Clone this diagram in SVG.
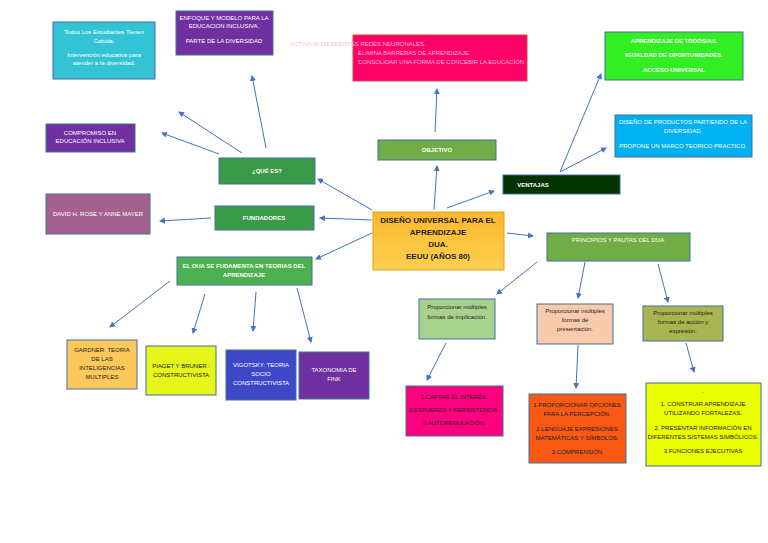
<svg xmlns="http://www.w3.org/2000/svg" width="768" height="543" viewBox="0 0 768 543">
<defs>
<marker id="ah" markerWidth="6" markerHeight="6" refX="5" refY="3" orient="auto" markerUnits="userSpaceOnUse"><path d="M0,0 L6,3 L0,6 Z" fill="#4472c4"/></marker>
<linearGradient id="cg" x1="0" y1="0" x2="0" y2="1"><stop offset="0" stop-color="#fdb82a"/><stop offset="1" stop-color="#fdd050"/></linearGradient>
</defs>
<style>
rect{stroke:#41719c;stroke-width:1}
text{font-family:"Liberation Sans",Arial,sans-serif;font-size:6px;text-anchor:middle}
.w{fill:#fff}.d{fill:#222}.b{font-weight:bold}
#conn line{stroke:#4472c4;stroke-width:1;marker-end:url(#ah)}
</style>
<rect width="768" height="543" fill="#fff" style="stroke:none"/>
<g id="conn">
<line x1="372" y1="210" x2="318" y2="179"/>
<line x1="372" y1="220" x2="320" y2="218"/>
<line x1="372" y1="233" x2="316" y2="259"/>
<line x1="434" y1="210" x2="437" y2="166"/>
<line x1="447" y1="208" x2="494" y2="191"/>
<line x1="507" y1="233" x2="533" y2="236"/>
<line x1="435" y1="132" x2="437" y2="89"/>
<line x1="560" y1="172" x2="601" y2="74"/>
<line x1="560" y1="172" x2="606" y2="148"/>
<line x1="242" y1="153" x2="179" y2="112"/>
<line x1="266" y1="148" x2="252" y2="76"/>
<line x1="219" y1="154" x2="162" y2="133"/>
<line x1="211" y1="218" x2="160" y2="221"/>
<line x1="170" y1="281" x2="110" y2="327"/>
<line x1="205" y1="294" x2="193" y2="333"/>
<line x1="256" y1="292" x2="253" y2="331"/>
<line x1="297" y1="288" x2="311" y2="342"/>
<line x1="537" y1="262" x2="497" y2="294"/>
<line x1="585" y1="262" x2="578" y2="298"/>
<line x1="658" y1="264" x2="668" y2="302"/>
<line x1="446" y1="343" x2="427" y2="380"/>
<line x1="578" y1="345" x2="576" y2="388"/>
<line x1="686" y1="343" x2="694" y2="372"/>
</g>
<g id="todos"><rect x="53" y="22" width="102" height="57" fill="#33c3d4"/><text class="w" x="104" y="34">Todos Los Estudiantes Tienen</text><text class="w" x="104" y="43">Cabida.</text><text class="w" x="104" y="57">Intervención educativa para</text><text class="w" x="104" y="65">atender a la diversidad.</text></g>
<g id="enfoque"><rect x="176" y="11" width="97" height="44" fill="#7030a0"/><text class="w" x="224" y="20">ENFOQUE Y MODELO PARA LA</text><text class="w" x="224" y="28">EDUCACION INCLUSIVA.</text><text class="w" x="224" y="43">PARTE DE LA DIVERSIDAD</text></g>
<g id="compromiso"><rect x="46" y="124" width="89" height="28" fill="#7030a0"/><text class="w" x="90" y="135">COMPROMISO EN</text><text class="w" x="90" y="143">EDUCACIÓN INCLUSIVA</text></g>
<g id="quees"><rect x="219" y="158" width="96" height="26" fill="#3a9a48"/><text class="w b" x="267" y="173">¿QUÉ ES?</text></g>
<g id="fundadores"><rect x="215" y="206" width="99" height="24" fill="#3a9a48"/><text class="w b" x="264" y="220">FUNDADORES</text></g>
<g id="david"><rect x="46" y="194" width="104" height="40" fill="#a5628e"/><text class="w" x="98" y="216">DAVID H. ROSE Y ANNE MAYER</text></g>
<g id="activa"><rect x="353" y="35" width="174" height="46" fill="#ff0066" style="stroke:#c0504d"/><text style="fill:#fbd" x="358" y="46" text-anchor="start" font-size="5.8" text-anchor-override="">ACTIVA-iR DIFERENTES REDES NEURONALES.</text><text style="fill:#fbd;text-anchor:start" x="358" y="55">ELIMINA BARRERAS DE APRENDIZAJE.</text><text style="fill:#fbd;text-anchor:start" x="358" y="64">CONSOLIDAR UNA FORMA DE CONCEBIR LA EDUCACIÓN</text></g>
<g id="objetivo"><rect x="378" y="140" width="118" height="20" fill="#70ad47"/><text class="w b" x="437" y="152">OBJETIVO</text></g>
<g id="ventajas"><rect x="503" y="175" width="117" height="19" fill="#003300"/><text class="w b" x="533" y="187">VENTAJAS</text></g>
<g id="aprendizaje"><rect x="605" y="32" width="138" height="48" fill="#33ee22"/><text class="w b" x="674" y="43">APRENDIZAJE DE TODOS/AS.</text><text class="w b" x="674" y="57">IGUALDAD DE OPORTUNIDADES.</text><text class="w b" x="674" y="72">ACCESO UNIVERSAL</text></g>
<g id="diseno"><rect x="615" y="115" width="137" height="42" fill="#00b0f0"/><text class="w" x="683" y="124">DISEÑO DE PRODUCTOS PARTIENDO DE LA</text><text class="w" x="683" y="133">DIVERSIDAD.</text><text class="w" x="683" y="148">PROPONE UN MARCO TEORICO PRACTICO.</text></g>
<g id="central"><rect x="373" y="212" width="131" height="58" fill="url(#cg)" style="stroke:#e0a020"/><text class="d b" font-size="8" x="438" y="223" style="font-size:8px">DISEÑO UNIVERSAL PARA EL</text><text class="d b" style="font-size:8px" x="438" y="235">APRENDIZAJE</text><text class="d b" style="font-size:8px" x="438" y="247">DUA.</text><text class="d b" style="font-size:8px" x="438" y="259">EEUU (AÑOS 80)</text></g>
<g id="principios"><rect x="547" y="233" width="143" height="28" fill="#70ad47"/><text class="w" x="618" y="242">PRINCIPIOS Y PAUTAS DEL DUA</text></g>
<g id="eldua"><rect x="177" y="257" width="135" height="28" fill="#4cb050"/><text class="w b" x="244" y="268">EL DUA SE FUDAMENTA EN TEORIAS DEL</text><text class="w b" x="244" y="277">APRENDIZAJE</text></g>
<g id="gardner"><rect x="67" y="340" width="70" height="49" fill="#fcc85a"/><text class="d" x="102" y="352">GARDNER: TEORIA</text><text class="d" x="102" y="361">DE LAS</text><text class="d" x="102" y="370">INTELIGENCIAS</text><text class="d" x="102" y="379">MULTIPLES</text></g>
<g id="piaget"><rect x="146" y="346" width="70" height="49" fill="#e6f51a"/><text class="d" x="181" y="368">PIAGET Y BRUNER :</text><text class="d" x="181" y="377">CONSTRUCTIVISTA</text></g>
<g id="vigotsky"><rect x="226" y="350" width="70" height="50" fill="#3e48c6"/><text class="w" x="261" y="367">VIGOTSKY: TEORIA</text><text class="w" x="261" y="376">SOCIO</text><text class="w" x="261" y="385">CONSTRUCTIVISTA</text></g>
<g id="taxonomia"><rect x="299" y="352" width="70" height="47" fill="#7030a0"/><text class="w" x="334" y="372">TAXONOMIA DE</text><text class="w" x="334" y="381">FINK</text></g>
<g id="impl"><rect x="419" y="299" width="76" height="40" fill="#a9d18e"/><text class="d" x="457" y="309">Proporcionar múltiples</text><text class="d" x="457" y="319">formas de implicación.</text></g>
<g id="pres"><rect x="537" y="304" width="76" height="40" fill="#f8cbad"/><text class="d" x="575" y="313">Proporcionar múltiples</text><text class="d" x="575" y="322">formas de</text><text class="d" x="575" y="331">presentación.</text></g>
<g id="accion"><rect x="643" y="306" width="80" height="35" fill="#a9b550"/><text class="d" x="683" y="315">Proporcionar múltiples</text><text class="d" x="683" y="324">formas de acción y</text><text class="d" x="683" y="333">expresión.</text></g>
<g id="captar"><rect x="406" y="386" width="97" height="50" fill="#ff0080"/><text class="d" x="454" y="399">1.CAPTAR EL INTERÉS.</text><text class="d" x="454" y="412">2.ESFUERZO Y PERSISTENCIA.</text><text class="d" x="454" y="425">3.AUTOREGULACIÓN.</text></g>
<g id="opciones"><rect x="529" y="394" width="97" height="69" fill="#f85a16"/><text class="d" x="577" y="407">1.PROPORCIONAR OPCIONES</text><text class="d" x="577" y="416">PARA LA PERCEPCIÓN.</text><text class="d" x="577" y="431">2.LENGUAJE EXPRESIONES</text><text class="d" x="577" y="440">MATEMÁTICAS Y SÍMBOLOS.</text><text class="d" x="577" y="454">3.COMPRENSIÓN</text></g>
<g id="construir"><rect x="646" y="383" width="115" height="83" fill="#eaff00"/><text class="d" x="703" y="393">.</text><text class="d" x="703" y="406">1. CONSTRUIR APRENDIZAJE</text><text class="d" x="703" y="415">UTILIZANDO FORTALEZAS.</text><text class="d" x="703" y="430">2. PRESENTAR INFORMACIÓN EN</text><text class="d" x="703" y="439">DIFERENTES SISTEMAS SIMBÓLICOS.</text><text class="d" x="703" y="453">3.FUNCIONES EJECUTIVAS</text></g>
</svg>
